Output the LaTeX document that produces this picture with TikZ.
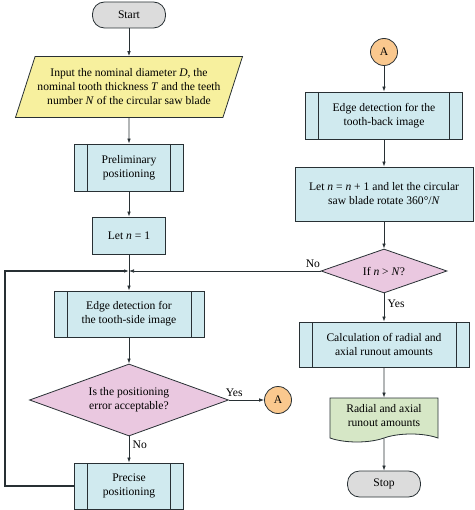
\documentclass[tikz,border=0pt]{standalone}
\usepackage{fontspec}
\setmainfont{Liberation Serif}
\usetikzlibrary{arrows.meta,positioning,shapes.geometric,shapes.symbols,calc}
\definecolor{edge}{RGB}{40,48,52}
\definecolor{boxblue}{RGB}{208,234,239}
\definecolor{inyellow}{RGB}{247,240,158}
\definecolor{decpink}{RGB}{234,200,224}
\definecolor{docgreen}{RGB}{214,231,198}
\definecolor{termgray}{RGB}{220,220,220}
\definecolor{conorange}{RGB}{250,200,142}

\begin{document}
\begin{tikzpicture}[x=1pt,y=1pt,on grid,node distance=70pt,
   font=\fontsize{11.6}{14}\selectfont,
   base/.style={draw=edge,line width=0.8pt,align=center,inner sep=2pt},
   terminal/.style={base,fill=termgray,rounded corners=12pt,minimum width=73pt,minimum height=26pt},
   io/.style={base,trapezium,trapezium left angle=64,trapezium right angle=116,
      trapezium stretches body,fill=inyellow,minimum width=227pt,minimum height=61pt},
   proc/.style={base,rectangle,fill=boxblue},
   subproc/.style={proc,path picture={
      \draw[edge,line width=0.8pt]
        ([xshift=13pt]path picture bounding box.north west) -- ([xshift=13pt]path picture bounding box.south west)
        ([xshift=-13pt]path picture bounding box.north east) -- ([xshift=-13pt]path picture bounding box.south east);}},
   decision/.style={base,diamond,aspect=2.7,fill=decpink,inner sep=1pt},
   conn/.style={base,circle,fill=conorange,minimum size=27pt,inner sep=0pt},
   doc/.style={base,tape,tape bend top=none,tape bend bottom=in and out,tape bend height=8pt,fill=docgreen},
   flow/.style={draw=edge,line width=0.7pt,-{Latex[length=5pt,width=3.6pt]}},
   back/.style={flow,line width=1.2pt}]
   \useasboundingbox (0,0) rectangle (474,-510);

   % left column
   \node[terminal] (start) at (129,-15) {Start};
   \node[io] (input) [below=72pt of start]
      {Input the nominal diameter \textit{D}, the\\nominal tooth thickness \textit{T} and the teeth\\number \textit{N} of the circular saw blade};
   \node[subproc,minimum width=109pt,minimum height=47pt] (prelim) [below=80.5pt of input] {Preliminary\\positioning};
   \node[proc,minimum width=73pt,minimum height=37pt] (letn) [below=68pt of prelim] {Let \textit{n} = 1};
   \node[subproc,minimum width=150pt,minimum height=46pt] (edgeside) [below=78.5pt of letn] {Edge detection for\\the tooth-side image};
   \node[decision,minimum width=199pt,minimum height=72pt] (errok) [below=86pt of edgeside] {Is the positioning\\error acceptable?};
   \node[subproc,minimum width=109pt,minimum height=46pt] (precise) [below=86pt of errok] {Precise\\positioning};
   \node[conn] (goA) [right=149pt of errok] {A};

   % right column
   \node[conn] (fromA) at (384,-52) {A};
   \node[subproc,minimum width=157pt,minimum height=47pt] (edgeback) [below=63.5pt of fromA] {Edge detection for the\\tooth-back image};
   \node[proc,minimum width=178pt,minimum height=54pt] (nextn) [below=78.5pt of edgeback]
      {Let \textit{n} = \textit{n} + 1 and let the circular\\saw blade rotate 360°/\textit{N}};
   \node[decision,minimum width=126pt,minimum height=44pt] (ndone) [below=77pt of nextn] {If \textit{n} > \textit{N}?};
   \node[subproc,minimum width=170pt,minimum height=45pt] (calc) [below=73.5pt of ndone] {Calculation of radial and\\axial runout amounts};
   \node[doc,minimum width=108pt,minimum height=44pt] (result) [below=71.5pt of calc] {Radial and axial\\runout amounts};
   \node[terminal] (stop) [below=68pt of result] {Stop};

   \coordinate (merge) at (letn |- ndone.west);
   \coordinate (loopturn) at ($(merge)+(-124pt,0)$);

   \draw[flow] (start) -- (input);
   \draw[flow] (input) -- (prelim);
   \draw[flow] (prelim) -- (letn);
   \draw[flow] (letn) -- (edgeside);
   \draw[flow] (edgeside) -- (errok);
   \draw[flow] (errok) -- node[above,pos=0.15] {Yes} (goA);
   \draw[flow] (errok) -- node[right,pos=0.3] {No} (precise);
   \draw[back] (precise.west) -| (loopturn) -- (merge);
   \draw[flow] (ndone.west) -- node[above,pos=0.04] {No} (merge);

   \draw[flow] (fromA) -- (edgeback);
   \draw[flow] (edgeback) -- (nextn);
   \draw[flow] (nextn) -- (ndone);
   \draw[flow] (ndone) -- node[right,pos=0.35] {Yes} (calc);
   \draw[flow] (calc) -- (result);
   \draw[flow] (result) -- (stop);
\end{tikzpicture}
\end{document}
